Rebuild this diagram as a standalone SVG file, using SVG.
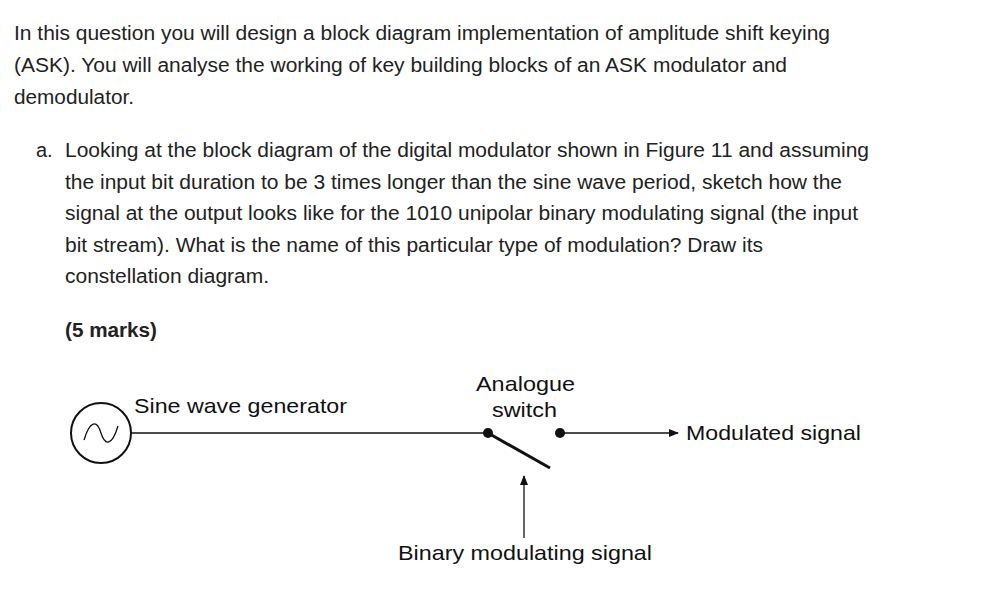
<svg xmlns="http://www.w3.org/2000/svg" width="1000" height="593" viewBox="0 0 1000 593">
<style>
.t{font-family:"Liberation Sans",Arial,sans-serif;font-size:20px;fill:#222}
.d{font-family:"Liberation Sans",Arial,sans-serif;font-size:21px;fill:#111}
.l{stroke:#111;stroke-width:1.3;fill:none}
</style>
<defs><marker id="a" markerWidth="10" markerHeight="8" refX="9" refY="4" orient="auto" markerUnits="userSpaceOnUse"><path d="M0,0 L10,4 L0,8 Z" fill="#111"/></marker></defs>
<rect width="1000" height="593" fill="#fff"/>
<text class="t" x="14" y="40" textLength="816" lengthAdjust="spacingAndGlyphs">In this question you will design a block diagram implementation of amplitude shift keying</text>
<text class="t" x="14" y="72" textLength="773" lengthAdjust="spacingAndGlyphs">(ASK). You will analyse the working of key building blocks of an ASK modulator and</text>
<text class="t" x="14" y="104" textLength="120" lengthAdjust="spacingAndGlyphs">demodulator.</text>
<text class="t" x="36" y="157">a.</text>
<text class="t" x="65" y="157" textLength="804" lengthAdjust="spacingAndGlyphs">Looking at the block diagram of the digital modulator shown in Figure 11 and assuming</text>
<text class="t" x="65" y="189" textLength="777" lengthAdjust="spacingAndGlyphs">the input bit duration to be 3 times longer than the sine wave period, sketch how the</text>
<text class="t" x="65" y="220" textLength="793" lengthAdjust="spacingAndGlyphs">signal at the output looks like for the 1010 unipolar binary modulating signal (the input</text>
<text class="t" x="65" y="252" textLength="698" lengthAdjust="spacingAndGlyphs">bit stream). What is the name of this particular type of modulation? Draw its</text>
<text class="t" x="65" y="283" textLength="204" lengthAdjust="spacingAndGlyphs">constellation diagram.</text>
<text class="t" x="65" y="337" font-weight="bold" textLength="92" lengthAdjust="spacingAndGlyphs">(5 marks)</text>
<g id="generator"><circle cx="101" cy="433" r="30" fill="#fff" stroke="#111" stroke-width="2"/><path d="M84,440 C90,420 97,420 101,433 C105,446 112,446 118,426" class="l" stroke-width="1.8"/><text class="d" x="134" y="413" textLength="213" lengthAdjust="spacingAndGlyphs">Sine wave generator</text></g>
<g id="switch"><circle cx="488" cy="433" r="5" fill="#111"/><circle cx="560" cy="433" r="5" fill="#111"/><line x1="488" y1="433" x2="550" y2="468" stroke="#111" stroke-width="3"/><text class="d" x="476" y="391" textLength="99" lengthAdjust="spacingAndGlyphs">Analogue</text><text class="d" x="492" y="417" textLength="65" lengthAdjust="spacingAndGlyphs">switch</text></g>
<g id="output"><text class="d" x="686" y="440" textLength="175" lengthAdjust="spacingAndGlyphs">Modulated signal</text></g>
<g id="binary"><text class="d" x="398" y="560" textLength="254" lengthAdjust="spacingAndGlyphs">Binary modulating signal</text></g>
<g id="connectors"><line class="l" x1="131" y1="433" x2="488" y2="433"/><line class="l" x1="560" y1="433" x2="678" y2="433" marker-end="url(#a)"/><line class="l" x1="524" y1="538" x2="524" y2="476" marker-end="url(#a)"/></g>
</svg>
